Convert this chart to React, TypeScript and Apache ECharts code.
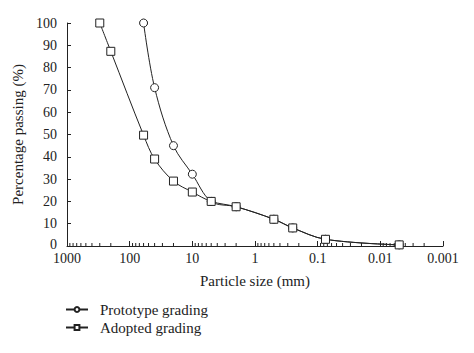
import React, { useEffect, useRef } from "react";
import * as echarts from "echarts";

const prototypeSizes = [60, 40, 20, 10, 5, 2, 0.5, 0.25, 0.075, 0.005];
const prototypePassing = [100, 71, 45, 32.2, 20, 17.6, 12, 8.1, 3, 0.5];
const adoptedSizes = [300, 200, 60, 40, 20, 10, 5, 2, 0.5, 0.25, 0.075, 0.005];
const adoptedPassing = [100, 87.3, 49.7, 39, 29.1, 24.2, 20, 17.6, 12, 8.1, 3, 0.5];
const decades = [1000, 100, 10, 1, 0.1, 0.01];
const minorMultipliers = [0.2, 0.3, 0.4, 0.5, 0.6, 0.7, 0.8, 0.9];

const FONT = "Liberation Serif";
const INK = "#222";

export default function App() {
  const ref = useRef<HTMLDivElement>(null);
  useEffect(() => {
    if (!ref.current) return;
    const chart = echarts.init(ref.current, undefined, { renderer: "svg" });
    const minorTicks: number[][] = [];
    decades.forEach((d) => minorMultipliers.forEach((m) => minorTicks.push([d * m, 0])));
    chart.setOption({
      animation: false,
      backgroundColor: "#fff",
      textStyle: { fontFamily: FONT, color: INK },
      grid: { left: 67, right: 31, top: 23, bottom: 107, containLabel: false },
      legend: {
        orient: "vertical",
        left: 60,
        top: 297,
        itemWidth: 22,
        itemHeight: 6,
        itemGap: 3,
        data: ["Prototype grading", "Adopted grading"],
        textStyle: { fontFamily: FONT, fontSize: 15, color: INK, padding: [0, 0, 0, 7] },
      },
      xAxis: {
        type: "log",
        logBase: 10,
        min: 0.001,
        max: 1000,
        inverse: true,
        name: "Particle size (mm)",
        nameLocation: "middle",
        nameGap: 27,
        nameTextStyle: { fontFamily: FONT, fontSize: 15, color: INK },
        axisLine: { show: true, lineStyle: { color: INK, width: 1 } },
        axisTick: { show: true, inside: true, length: 5, lineStyle: { color: INK } },
        splitLine: { show: false },
        axisLabel: {
          fontFamily: FONT,
          fontSize: 14,
          color: INK,
          margin: 5,
          formatter: (v: number) => String(Number(v.toPrecision(6))),
        },
      },
      yAxis: {
        type: "value",
        min: 0,
        max: 100,
        interval: 10,
        name: "Percentage passing (%)",
        nameLocation: "middle",
        nameGap: 36,
        nameRotate: 90,
        nameTextStyle: { fontFamily: FONT, fontSize: 15, color: INK },
        axisLine: { show: true, lineStyle: { color: INK, width: 1 } },
        axisTick: { show: true, inside: true, length: 4, lineStyle: { color: INK } },
        splitLine: { show: false },
        axisLabel: {
          fontFamily: FONT,
          fontSize: 14,
          color: INK,
          margin: 10,
          formatter: (v: number) => (v === 0 ? "{z|0}" : String(v)),
          rich: { z: { fontFamily: FONT, fontSize: 14, color: INK, padding: [0, 0, 4, 0] } },
        },
      },
      series: [
        {
          name: "Prototype grading",
          type: "line",
          smooth: 0.35,
          symbol: "circle",
          symbolSize: 8,
          data: prototypeSizes.map((s, i) => [s, prototypePassing[i]]),
          lineStyle: { color: INK, width: 1 },
          itemStyle: { color: "#fff", borderColor: INK, borderWidth: 1 },
          z: 3,
        },
        {
          name: "Adopted grading",
          type: "line",
          smooth: 0.35,
          symbol: "rect",
          symbolSize: 8,
          data: adoptedSizes.map((s, i) => [s, adoptedPassing[i]]),
          lineStyle: { color: INK, width: 1 },
          itemStyle: { color: "#fff", borderColor: INK, borderWidth: 1 },
          z: 4,
        },
        {
          name: "minorTicks",
          type: "custom",
          silent: true,
          data: minorTicks,
          encode: { x: 0, y: 1 },
          renderItem: (params: any, api: any) => {
            const p = api.coord([api.value(0), 0]);
            return {
              type: "line",
              shape: { x1: p[0], y1: p[1], x2: p[0], y2: p[1] - 3 },
              style: { stroke: INK, lineWidth: 1 },
            };
          },
          z: 2,
        },
      ],
    });
    return () => chart.dispose();
  }, []);
  return <div ref={ref} style={{ width: 474, height: 353, margin: -8 }} />;
}
